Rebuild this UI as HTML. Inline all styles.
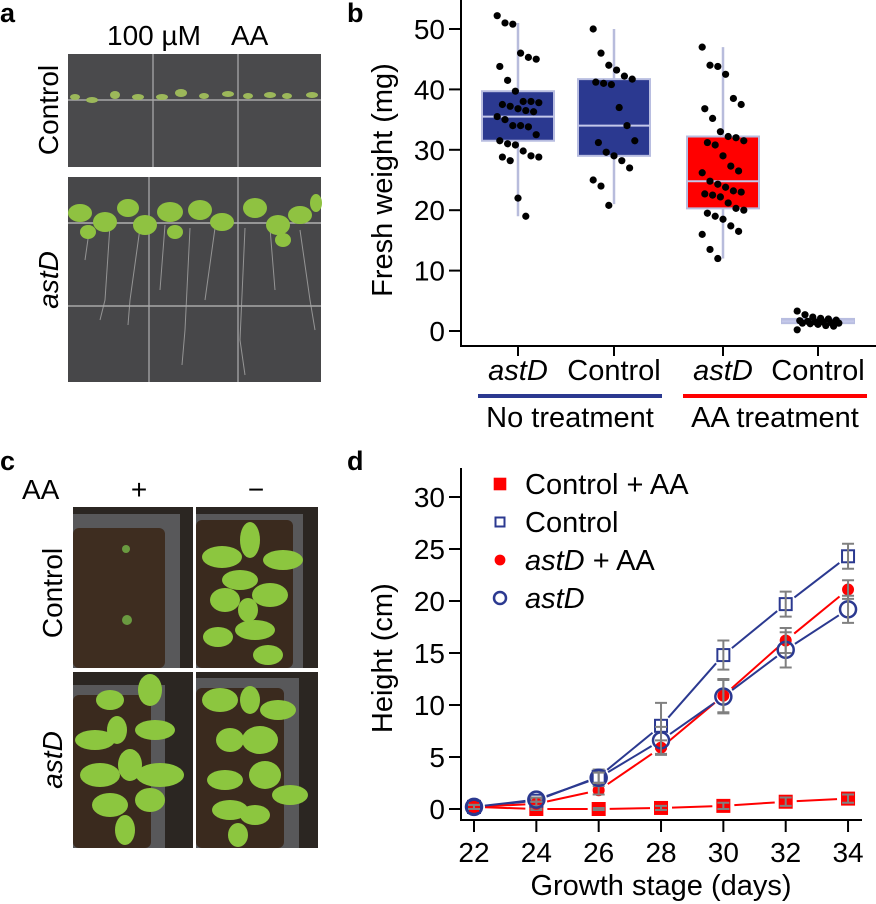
<!DOCTYPE html>
<html><head><meta charset="utf-8"><style>
html,body{margin:0;padding:0;background:#fff;}
svg{display:block;font-family:"Liberation Sans",Arial,sans-serif;}
</style></head><body>
<svg id="fig" width="876" height="904" viewBox="0 0 876 904" xmlns="http://www.w3.org/2000/svg">
<!-- Panel a -->
<g>
<text x="0" y="22" font-size="27" font-weight="bold">a</text>
<text x="107" y="45" font-size="28">100 µM</text>
<text x="231" y="45" font-size="28">AA</text>
<text transform="translate(58,110) rotate(-90)" text-anchor="middle" font-size="28">Control</text>
<text transform="translate(58,280) rotate(-90)" text-anchor="middle" font-size="28" font-style="italic">astD</text>
<g>
<rect x="68" y="54" width="253" height="113" fill="#4a4a4c"/>
<line x1="153" y1="54" x2="153" y2="167" stroke="#9a9a9c" stroke-width="1.5"/>
<line x1="238" y1="54" x2="238" y2="167" stroke="#9a9a9c" stroke-width="1.5"/>
<line x1="68" y1="100" x2="321" y2="100" stroke="#a8a8a8" stroke-width="1.5"/>
<g fill="#9cb85a"><ellipse cx="75" cy="97" rx="5" ry="3"/><ellipse cx="92" cy="100" rx="6" ry="3"/><ellipse cx="115" cy="95" rx="5" ry="4"/><ellipse cx="138" cy="97" rx="6" ry="3"/><ellipse cx="162" cy="97" rx="6" ry="3"/><ellipse cx="181" cy="93" rx="6" ry="4"/><ellipse cx="204" cy="96" rx="5" ry="3"/><ellipse cx="228" cy="94" rx="6" ry="3"/><ellipse cx="248" cy="96" rx="5" ry="3"/><ellipse cx="270" cy="95" rx="6" ry="3"/><ellipse cx="287" cy="96" rx="5" ry="3"/><ellipse cx="312" cy="95" rx="6" ry="3"/></g>
</g>
<g>
<rect x="68" y="177" width="253" height="205" fill="#474749"/>
<line x1="149" y1="177" x2="149" y2="382" stroke="#9a9a9c" stroke-width="1.5"/>
<line x1="238" y1="177" x2="238" y2="382" stroke="#9a9a9c" stroke-width="1.5"/>
<line x1="68" y1="306" x2="321" y2="306" stroke="#a8a8a8" stroke-width="1.5"/>
<line x1="68" y1="223" x2="321" y2="223" stroke="#b0b0b0" stroke-width="1.5"/>
<g stroke="#a8a8a8" stroke-width="1" fill="none" opacity="0.8"><path d="M90 225 L85 260 M110 225 L105 300 L100 320 M140 228 L130 300 L128 325 M165 225 L160 290 M190 228 L185 330 L182 365 M215 228 L205 300 M245 228 L240 340 L245 375 M270 228 L275 290 M300 230 L310 300 L315 330"/></g>
<g fill="#8fc241"><ellipse cx="80" cy="213" rx="12" ry="9"/><ellipse cx="105" cy="222" rx="12" ry="10"/><ellipse cx="128" cy="208" rx="11" ry="9"/><ellipse cx="145" cy="225" rx="12" ry="10"/><ellipse cx="170" cy="212" rx="13" ry="10"/><ellipse cx="200" cy="210" rx="12" ry="10"/><ellipse cx="222" cy="222" rx="12" ry="9"/><ellipse cx="255" cy="208" rx="12" ry="10"/><ellipse cx="278" cy="225" rx="12" ry="10"/><ellipse cx="300" cy="215" rx="12" ry="9"/><ellipse cx="316" cy="203" rx="6" ry="9"/><ellipse cx="88" cy="232" rx="8" ry="7"/><ellipse cx="175" cy="232" rx="8" ry="7"/><ellipse cx="283" cy="240" rx="8" ry="7"/></g>
</g>
</g>
<!-- Panel c -->
<g>
<text x="0" y="470" font-size="27" font-weight="bold">c</text>
<text x="22" y="499" font-size="28">AA</text>
<text x="139" y="499" font-size="28" text-anchor="middle">+</text>
<text x="256" y="499" font-size="28" text-anchor="middle">−</text>
<text transform="translate(62,593) rotate(-90)" text-anchor="middle" font-size="28">Control</text>
<text transform="translate(62,760) rotate(-90)" text-anchor="middle" font-size="28" font-style="italic">astD</text>
<g>
<rect x="73" y="507" width="120" height="161" fill="#2b2622"/>
<rect x="73" y="514" width="107" height="154" fill="#58585a"/>
<rect x="73" y="528" width="92" height="140" rx="6" fill="#3e2d20"/>
<circle cx="126" cy="549" r="4" fill="#6a9a40"/><circle cx="127" cy="620" r="5" fill="#6a9a40"/>
</g>
<g>
<rect x="196" y="507" width="122" height="161" fill="#2b2622"/>
<rect x="196" y="514" width="107" height="154" fill="#58585a"/>
<rect x="196" y="520" width="97" height="148" rx="6" fill="#3a2a1e"/>
<g fill="#8cc63f"><ellipse cx="250" cy="540" rx="10" ry="18"/><ellipse cx="222" cy="557" rx="20" ry="11"/><ellipse cx="283" cy="560" rx="20" ry="10"/><ellipse cx="240" cy="580" rx="18" ry="10"/><ellipse cx="270" cy="595" rx="18" ry="12"/><ellipse cx="225" cy="600" rx="15" ry="12"/><ellipse cx="255" cy="630" rx="20" ry="10"/><ellipse cx="218" cy="637" rx="15" ry="10"/><ellipse cx="268" cy="655" rx="15" ry="10"/><ellipse cx="248" cy="610" rx="10" ry="12"/></g>
</g>
<g>
<rect x="73" y="672" width="120" height="176" fill="#2b2622"/>
<rect x="73" y="685" width="92" height="163" fill="#58585a"/>
<rect x="73" y="695" width="78" height="153" rx="6" fill="#3a2a1e"/>
<g fill="#8cc63f"><ellipse cx="150" cy="690" rx="12" ry="16"/><ellipse cx="110" cy="700" rx="14" ry="10"/><ellipse cx="155" cy="730" rx="20" ry="10"/><ellipse cx="95" cy="740" rx="20" ry="10"/><ellipse cx="117" cy="730" rx="10" ry="14"/><ellipse cx="100" cy="775" rx="20" ry="12"/><ellipse cx="160" cy="775" rx="24" ry="12"/><ellipse cx="130" cy="765" rx="12" ry="16"/><ellipse cx="110" cy="805" rx="18" ry="12"/><ellipse cx="150" cy="800" rx="15" ry="12"/><ellipse cx="125" cy="830" rx="10" ry="15"/></g>
</g>
<g>
<rect x="196" y="672" width="122" height="176" fill="#2b2622"/>
<rect x="196" y="678" width="103" height="170" fill="#58585a"/>
<rect x="196" y="688" width="88" height="160" rx="6" fill="#3a2a1e"/>
<g fill="#8cc63f"><ellipse cx="220" cy="700" rx="18" ry="12"/><ellipse cx="250" cy="700" rx="10" ry="14"/><ellipse cx="278" cy="710" rx="18" ry="10"/><ellipse cx="230" cy="740" rx="14" ry="12"/><ellipse cx="260" cy="740" rx="18" ry="14"/><ellipse cx="265" cy="775" rx="16" ry="14"/><ellipse cx="225" cy="780" rx="18" ry="10"/><ellipse cx="290" cy="795" rx="18" ry="10"/><ellipse cx="230" cy="810" rx="18" ry="10"/><ellipse cx="255" cy="815" rx="15" ry="10"/><ellipse cx="238" cy="835" rx="10" ry="12"/></g>
</g>
</g>
<!-- Panel labels b,d -->
<text x="347" y="22" font-size="27" font-weight="bold">b</text>
<text x="347" y="470" font-size="27" font-weight="bold">d</text>
<g id="panelB"></g>
<g id="panelD"></g>
</svg>
<script>
// ---------- Panel b data ----------
const bCategories = ["astD", "Control", "astD", "Control"];
const bItalic = [true, false, true, false];
const bYTicks = [0, 10, 20, 30, 40, 50];
const bWhiskerLow = [19, 21, 12, 1.2];
const bQ1 = [31.5, 29, 20.3, 1.3];
const bMedian = [35.5, 34, 24.8, 1.6];
const bQ3 = [39.7, 41.7, 32.2, 2.0];
const bWhiskerHigh = [51, 50, 47, 2.1];
const bPointsAstD = [52.2,51,50.8,46,45.3,45,43.8,41.5,39.7,38,38,37.8,37.5,37.2,36.8,36.5,36.3,35.5,35,34,34,33.8,32.5,31.5,31,30.8,29.8,29,28.8,28.8,28.2,22,19];
const bPointsControl = [50,46,44,43.2,42.2,41.7,41.2,41,40.8,37,34,31.5,31.2,29.6,29,28.2,27,25,24,20.8];
const bPointsAstDAA = [47,44,43.8,42.5,38.5,37.5,36.8,35.2,33,32.2,32,31.5,31.2,30.8,29,27.3,26.5,26.2,24.8,24.3,23.8,23.2,23,22.7,22.5,22.2,21.2,20.3,20,19.5,19,18.5,17.4,16.5,16,13.5,12];
const bPointsControlAA = [3.3,2.7,2.3,2.1,2,1.8,1.7,1.6,1.5,1.5,1.4,1.3,1.3,1.2,1.1,0.9,0.8,0.2];
const bGroups = ["No treatment", "AA treatment"];

// ---------- Panel d data ----------
const dDays = [22, 24, 26, 28, 30, 32, 34];
const dXTicks = [22, 24, 26, 28, 30, 32, 34];
const dYTicks = [0, 5, 10, 15, 20, 25, 30];
const dControlAA = [0.2, 0.0, 0.0, 0.1, 0.3, 0.7, 1.0];
const dControlAAErr = [0.2, 0.1, 0.1, 0.2, 0.3, 0.4, 0.4];
const dControl = [0.2, 0.8, 3.1, 8.0, 14.8, 19.7, 24.3];
const dControlErr = [0.2, 0.2, 0.7, 2.2, 1.4, 1.2, 1.2];
const dAstDAA = [0.2, 0.5, 1.8, 5.9, 10.9, 16.2, 21.1];
const dAstDAAErr = [0.2, 0.2, 0.4, 0.7, 1.6, 1.2, 0.9];
const dAstD = [0.2, 0.9, 3.0, 6.6, 10.8, 15.3, 19.2];
const dAstDErr = [0.2, 0.2, 0.5, 1.3, 1.6, 1.7, 1.3];

const NS = "http://www.w3.org/2000/svg";
function mk(tag, attrs, parent) {
  const e = document.createElementNS(NS, tag);
  for (const k in attrs) e.setAttribute(k, attrs[k]);
  parent.appendChild(e);
  return e;
}
const TICKF = 28;
const LABF = 29;

// ===== Panel b =====
(function(){
  const g = document.getElementById("panelB");
  const x0 = 461, yBase = 346, xEnd = 876;
  const yB = v => 331 - v * 6.04;
  const catX = [518, 614, 723, 818];
  const xB = i => catX[i];
  const boxW = 72;
  const ax = mk("path", {d:`M${x0} 0 L${x0} ${yBase} L${xEnd} ${yBase}`, fill:"none", stroke:"#000", "stroke-width":2}, g);
  
  
  bYTicks.forEach(t => {
    const l = mk("line", {x1:x0-12, x2:x0, y1:yB(t), y2:yB(t), stroke:"#000", "stroke-width":2}, g);
    
    
    const tx = mk("text", {x:x0-16, y:yB(t)+10, "text-anchor":"end", "font-size":TICKF}, g);
    tx.textContent = t;
    
    
  });
  const yt = mk("text", {transform:`translate(392,${yB(25)}) rotate(-90)`, "text-anchor":"middle", "font-size":LABF}, g);
  yt.textContent = "Fresh weight (mg)";
  
  
  const fills = ["#2b3990", "#2b3990", "#ff0000", "#b8bde0"];
  const pts = [bPointsAstD, bPointsControl, bPointsAstDAA, bPointsControlAA];
  bCategories.forEach((c, i) => {
    const cx = xB(i);
    const tk = mk("line", {x1:cx, x2:cx, y1:yBase, y2:yBase+10, stroke:"#000", "stroke-width":2}, g);
    
    
    const wh = mk("line", {x1:cx, x2:cx, y1:yB(bWhiskerLow[i]), y2:yB(bWhiskerHigh[i]), stroke:"#b8bcdc", "stroke-width":2.5}, g);
    
    
    const bx = mk("rect", {x:cx-boxW/2, y:yB(bQ3[i]), width:boxW, height:Math.max(yB(bQ1[i])-yB(bQ3[i]),3), fill:fills[i], stroke:"#b8bde0", "stroke-width":2}, g);
    
    
    const md = mk("line", {x1:cx-boxW/2, x2:cx+boxW/2, y1:yB(bMedian[i]), y2:yB(bMedian[i]), stroke:"#c4c8ea", "stroke-width":2}, g);
    
    
    pts[i].forEach((v, j) => {
      const jit = (((j * 37) % 17) - 8) * 2.6;
      const p = mk("circle", {cx:cx+jit, cy:yB(v), r:3.6, fill:"#000"}, g);
      
      
    });
    const lb = mk("text", {x:cx, y:380, "text-anchor":"middle", "font-size":LABF, "font-style":bItalic[i]?"italic":"normal"}, g);
    lb.textContent = c;
    
    
  });
  const grpX = [[478, 662], [683, 867]];
  const grpC = ["#2b3990", "#ff0000"];
  bGroups.forEach((n, i) => {
    const l = mk("line", {x1:grpX[i][0], x2:grpX[i][1], y1:396, y2:396, stroke:grpC[i], "stroke-width":4}, g);
    
    
    const t = mk("text", {x:(grpX[i][0]+grpX[i][1])/2, y:427, "text-anchor":"middle", "font-size":LABF}, g);
    t.textContent = n;
    
    
  });
})();

// ===== Panel d =====
(function(){
  const g = document.getElementById("panelD");
  const x0 = 461, yBase = 820, yTop = 468, xEnd = 862;
  const xD = d => 474 + (d - 22) * 31.17;
  const yD = v => 809 - v * 10.4;
  const ax = mk("path", {d:`M${x0} ${yTop} L${x0} ${yBase} L${xEnd} ${yBase}`, fill:"none", stroke:"#000", "stroke-width":2}, g);
  
  
  dYTicks.forEach(t => {
    const l = mk("line", {x1:x0-12, x2:x0, y1:yD(t), y2:yD(t), stroke:"#000", "stroke-width":2}, g);
    
    
    const tx = mk("text", {x:x0-16, y:yD(t)+10, "text-anchor":"end", "font-size":TICKF}, g);
    tx.textContent = t;
    
    
  });
  dXTicks.forEach(t => {
    const l = mk("line", {x1:xD(t), x2:xD(t), y1:yBase, y2:yBase+12, stroke:"#000", "stroke-width":2}, g);
    
    
    const tx = mk("text", {x:xD(t), y:862, "text-anchor":"middle", "font-size":TICKF}, g);
    tx.textContent = t;
    
    
  });
  const xt = mk("text", {x:xD(28), y:895, "text-anchor":"middle", "font-size":LABF}, g);
  xt.textContent = "Growth stage (days)";
  
  
  const yt = mk("text", {transform:`translate(392,${yD(14.5)}) rotate(-90)`, "text-anchor":"middle", "font-size":LABF}, g);
  yt.textContent = "Height (cm)";
  
  

  const series = [
    {name:"Control + AA", vals:dControlAA, err:dControlAAErr, color:"#ff0000", shape:"sq", filled:true},
    {name:"Control", vals:dControl, err:dControlErr, color:"#2b3990", shape:"sq", filled:false},
    {name:"astD + AA", vals:dAstDAA, err:dAstDAAErr, color:"#ff0000", shape:"ci", filled:true},
    {name:"astD", vals:dAstD, err:dAstDErr, color:"#2b3990", shape:"ci", filled:false}
  ];
  function marker(x, y, s, parent, scale) {
    let m;
    if (s.shape === "sq") {
      const r = (s.filled ? 7 : 6) * scale;
      m = mk("rect", {x:x-r, y:y-r, width:2*r, height:2*r, fill:s.filled?s.color:"none", stroke:s.color, "stroke-width":s.filled?0:2}, parent);
    } else {
      m = mk("circle", {cx:x, cy:y, r:(s.filled?6:8)*scale, fill:s.filled?s.color:"none", stroke:s.color, "stroke-width":s.filled?0:2.5}, parent);
    }
    return m;
  }
  series.forEach((s, si) => {
    const sg = mk("g", {}, g);
    
    
    for (let i = 0; i < dDays.length - 1; i++) {
      const xa = xD(dDays[i]), ya = yD(s.vals[i]), xb = xD(dDays[i+1]), yb = yD(s.vals[i+1]);
      const dx = xb - xa, dy = yb - ya, L = Math.hypot(dx, dy), gap = 11;
      if (L <= 2 * gap) continue;
      const ln = mk("line", {x1:xa+dx*gap/L, y1:ya+dy*gap/L, x2:xb-dx*gap/L, y2:yb-dy*gap/L, stroke:s.color, "stroke-width":2}, sg);
      
      
    }
    dDays.forEach((d, i) => {
      const x = xD(d), v = s.vals[i], e = s.err[i];
      const m = marker(x, yD(v), s, sg, 1);
      
      
      const eb = mk("path", {d:`M${x} ${yD(v-e)} L${x} ${yD(v+e)} M${x-6} ${yD(v-e)} L${x+6} ${yD(v-e)} M${x-6} ${yD(v+e)} L${x+6} ${yD(v+e)}`, stroke:"#808080", "stroke-width":2, fill:"none"}, sg);
      
      
    });
    const ly = 494 + si * 38;
    const lg = mk("g", {}, g);
    
    
    marker(500, ly - 10, s, lg, s.filled ? 0.9 : 0.75);
    const lt = mk("text", {x:525, y:ly, "font-size":LABF}, lg);
    if (s.name.startsWith("astD")) {
      const a = mk("tspan", {"font-style":"italic"}, lt); a.textContent = "astD";
      const b = mk("tspan", {}, lt); b.textContent = s.name.slice(4);
    } else lt.textContent = s.name;
  });
})();
</script>
</body></html>
